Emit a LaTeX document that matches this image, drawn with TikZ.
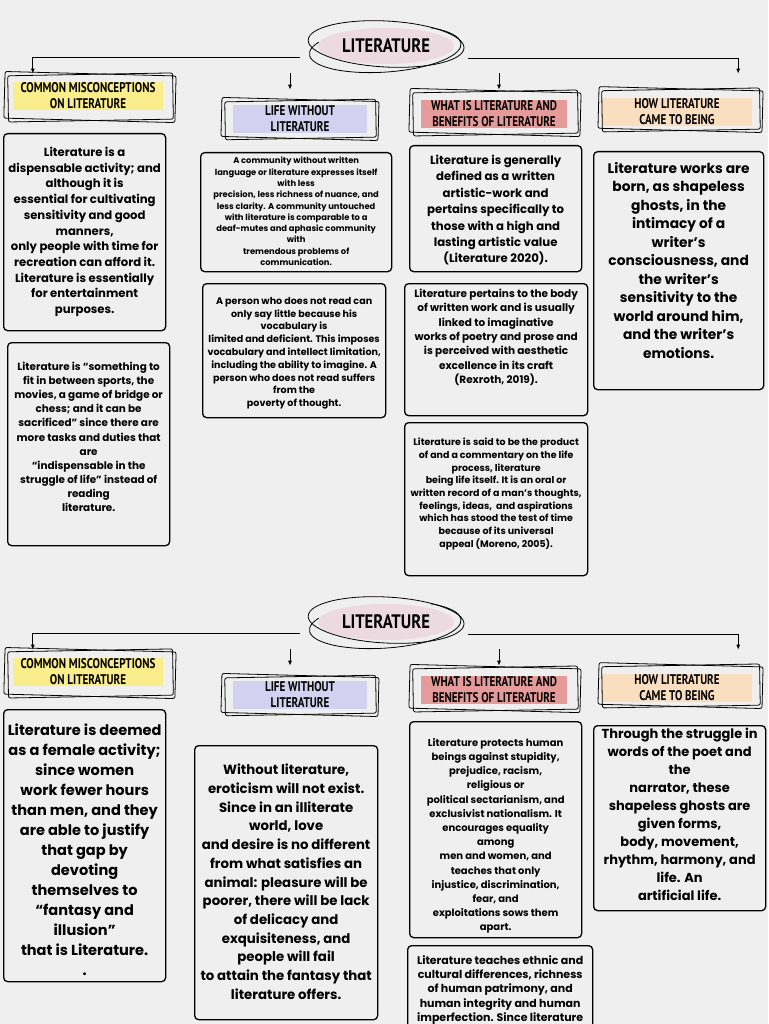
\documentclass[tikz,border=0pt]{standalone}
\usepackage{fontspec}
\setmainfont{Poppins}
\newfontfamily\headfont[FakeStretch=0.79]{PT Sans}
\newfontfamily\titlefont[FakeStretch=0.85]{PT Sans}
\usetikzlibrary{positioning,arrows.meta,shapes.geometric}
\definecolor{pagebg}{RGB}{239,239,239}
\definecolor{titlepink}{RGB}{236,218,224}
\definecolor{hlyellow}{RGB}{250,238,140}
\definecolor{hllilac}{RGB}{210,210,240}
\definecolor{hlrose}{RGB}{230,155,155}
\definecolor{hlpeach}{RGB}{250,222,192}
\tikzset{
  card/.style={draw, line width=1.3pt, rounded corners=4pt, fill=pagebg,
               anchor=north west, inner sep=0pt},
  txt/.style 2 args={align=center, inner sep=0pt,
               font=\bfseries\fontsize{#1pt}{#2pt}\selectfont},
  headbox/.style={font=\headfont\bfseries\fontsize{14}{16}\selectfont,
               align=center, inner xsep=2pt, inner ysep=1pt, minimum height=27pt},
  titleell/.style={ellipse, fill=titlepink, minimum width=136pt, minimum height=36pt,
               font=\titlefont\bfseries\fontsize{19.5}{22}\selectfont},
  sketch/.style={line width=0.8pt, rounded corners=2pt},
  arr/.style={-{Latex[length=5pt,width=4pt]}, line width=0.9pt},
}
% hand-drawn double frame round a header
\newcommand\roughframe[5]{%
  \draw[sketch, rotate around={-1.5:(#1.center)}] ([shift={(-#2,-#3)}]#1.north west) rectangle ([shift={(#4,#5)}]#1.south east);
  \draw[sketch, rotate around={1:(#1.center)}] ([shift={(-#2+3,-#3+4)}]#1.north west) rectangle ([shift={(#4-2,#5-3)}]#1.south east);
}
% title, four headers and their arrows
\newcommand\litheads[2]{%
  \begin{scope}[yshift=-#2pt]
    \node[titleell] (#1lit) at (386,46) {LITERATURE};
    \draw[sketch, rotate around={-3:(#1lit.center)}] ([shift={(0,-2)}]#1lit.center) ellipse [x radius=78pt, y radius=23pt];
    \draw[sketch, rotate around={4:(#1lit.center)}] ([shift={(-1,3)}]#1lit.center) ++(150:76pt and 23pt)
      arc [start angle=150, end angle=412, x radius=76pt, y radius=23pt];
    \node[headbox, fill=hlyellow, minimum width=150pt] (#1cm) at (88,96) {COMMON MISCONCEPTIONS\\ON LITERATURE};
    \node[headbox, fill=hllilac, minimum width=134pt] (#1lw) at (300,119) {LIFE WITHOUT\\LITERATURE};
    \node[headbox, fill=hlrose, minimum width=146pt] (#1wl) at (494,114) {WHAT IS LITERATURE AND\\BENEFITS OF LITERATURE};
    \node[headbox, fill=hlpeach, minimum width=150pt] (#1hl) at (677,112) {HOW LITERATURE\\CAME TO BEING};
    \roughframe{#1cm}{8}{10}{12}{12}
    \roughframe{#1lw}{11}{7}{11}{7}
    \roughframe{#1wl}{11}{11}{13}{8}
    \roughframe{#1hl}{3}{11}{10}{6}
    \coordinate (#1lwin) at (290,73);
    \coordinate (#1wlin) at (499,73);
    \draw[arr, shorten >=8pt] ([shift={(-18,11)}]#1lit.west) -| ([shift={(20,0)}]#1cm.north west);
    \draw[arr, shorten >=24pt] ([shift={(14,12)}]#1lit.east) -| ([shift={(-14,0)}]#1hl.north east);
    \draw[arr, shorten >=15pt] (#1lwin) -- (#1lwin |- #1lw.north);
    \draw[arr, shorten >=10pt] (#1wlin) -- (#1wlin |- #1wl.north);
  \end{scope}}
\begin{document}
\begin{tikzpicture}[x=1pt, y=-1pt]
  \useasboundingbox (0,0) rectangle (768,1024);
  \clip (0,0) rectangle (768,1024);
  \fill[pagebg] (0,0) rectangle (768,1024);

  \litheads{t}{0}
  \litheads{b}{576}

  % upper half
  \node[card, minimum width=162pt, minimum height=197pt] (misA) at (3,133) {};
  \node[txt={11.65}{15.7}, below=14pt of misA.north] (misAtxt) {Literature is a\\dispensable activity; and\\although it is\\essential for cultivating\\sensitivity and good\\manners,\\only people with time for\\recreation can afford it.\\Literature is essentially\\for entertainment\\purposes.};
  \node[card, minimum width=162pt, minimum height=203pt] (misB) at (7,342) {};
  \node[txt={10.4}{14.1}, below=20pt of misB.north] (misBtxt) {Literature is “something to\\fit in between sports, the\\movies, a game of bridge or\\chess; and it can be\\sacrificed” since there are\\more tasks and duties that\\are\\“indispensable in the\\struggle of life” instead of\\reading\\literature.};

  \node[card, minimum width=191pt, minimum height=119pt] (lifeA) at (200,152) {};
  \node[txt={8.35}{11.3}, below=5pt of lifeA.north] (lifeAtxt) {A community without written\\language or literature expresses itself\\with less\\precision, less richness of nuance, and\\less clarity. A community untouched\\with literature is comparable to a\\deaf-mutes and aphasic community\\with\\tremendous problems of\\communication.};
  \node[card, minimum width=183pt, minimum height=134pt] (lifeB) at (202,283) {};
  \node[txt={9.55}{12.8}, below=14pt of lifeB.north] (lifeBtxt) {A person who does not read can\\only say little because his\\vocabulary is\\limited and deficient. This imposes\\vocabulary and intellect limitation,\\including the ability to imagine. A\\person who does not read suffers\\from the\\poverty of thought.};

  \node[card, minimum width=172pt, minimum height=126pt] (whatA) at (409,145) {};
  \node[txt={11.7}{16.4}, below=10pt of whatA.north] (whatAtxt) {Literature is generally\\defined as a written\\artistic-work and\\pertains specifically to\\those with a high and\\lasting artistic value\\(Literature 2020).};
  \node[card, minimum width=183pt, minimum height=132pt] (whatB) at (404,283) {};
  \node[txt={10.5}{14.3}, below=6pt of whatB.north] (whatBtxt) {Literature pertains to the body\\of written work and is usually\\linked to imaginative\\works of poetry and prose and\\is perceived with aesthetic\\excellence in its craft\\(Rexroth, 2019).};
  \node[card, minimum width=183pt, minimum height=153pt] (whatC) at (404,422) {};
  \node[txt={9.45}{12.7}, below=16pt of whatC.north] (whatCtxt) {Literature is said to be the product\\of and a commentary on the life\\process, literature\\being life itself. It is an oral or\\written record of a man’s thoughts,\\feelings, ideas,\ \ and aspirations\\which has stood the test of time\\because of its universal\\appeal (Moreno, 2005).};

  \node[card, minimum width=170pt, minimum height=238pt] (howA) at (593,151) {};
  \node[txt={13.8}{18.5}, below=11pt of howA.north] (howAtxt) {Literature works are\\born, as shapeless\\ghosts, in the\\intimacy of a\\writer’s\\consciousness, and\\the writer’s\\sensitivity to the\\world around him,\\and the writer’s\\emotions.};

  % lower half
  \node[card, minimum width=162pt, minimum height=272pt] (misC) at (3,709) {};
  \node[txt={14.55}{20}, below=15pt of misC.north] (misCtxt) {Literature is deemed\\as a female activity;\\since women\\work fewer hours\\than men, and they\\are able to justify\\that gap by\\devoting\\themselves to\\“fantasy and\\illusion”\\that is Literature.\\.};

  \node[card, minimum width=183pt, minimum height=274pt] (lifeC) at (194,745) {};
  \node[txt={13.3}{18.7}, below=19pt of lifeC.north] (lifeCtxt) {Without literature,\\eroticism will not exist.\\Since in an illiterate\\world, love\\and desire is no different\\from what satisfies an\\animal: pleasure will be\\poorer, there will be lack\\of delicacy and\\exquisiteness, and\\people will fail\\to attain the fantasy that\\literature offers.};

  \node[card, minimum width=172pt, minimum height=216pt] (whatD) at (409,721) {};
  \node[txt={10}{14.2}, below=17pt of whatD.north] (whatDtxt) {Literature protects human\\beings against stupidity,\\prejudice, racism,\\religious or\\political sectarianism, and\\exclusivist nationalism. It\\encourages equality\\among\\men and women, and\\teaches that only\\injustice, discrimination,\\fear, and\\exploitations sows them\\apart.};
  \node[card, minimum width=185pt, minimum height=130pt] (whatE) at (407,945) {};
  \node[txt={11}{14.4}, below=10pt of whatE.north] (whatEtxt) {Literature teaches ethnic and\\cultural differences, richness\\of human patrimony, and\\human integrity and human\\imperfection. Since literature};

  \node[card, minimum width=172pt, minimum height=185pt] (howB) at (593,725) {};
  \node[txt={13}{18}, below=3pt of howB.north] (howBtxt) {Through the struggle in\\words of the poet and\\the\\narrator, these\\shapeless ghosts are\\given forms,\\body, movement,\\rhythm, harmony, and\\life. An\\artificial life.};
\end{tikzpicture}
\end{document}
